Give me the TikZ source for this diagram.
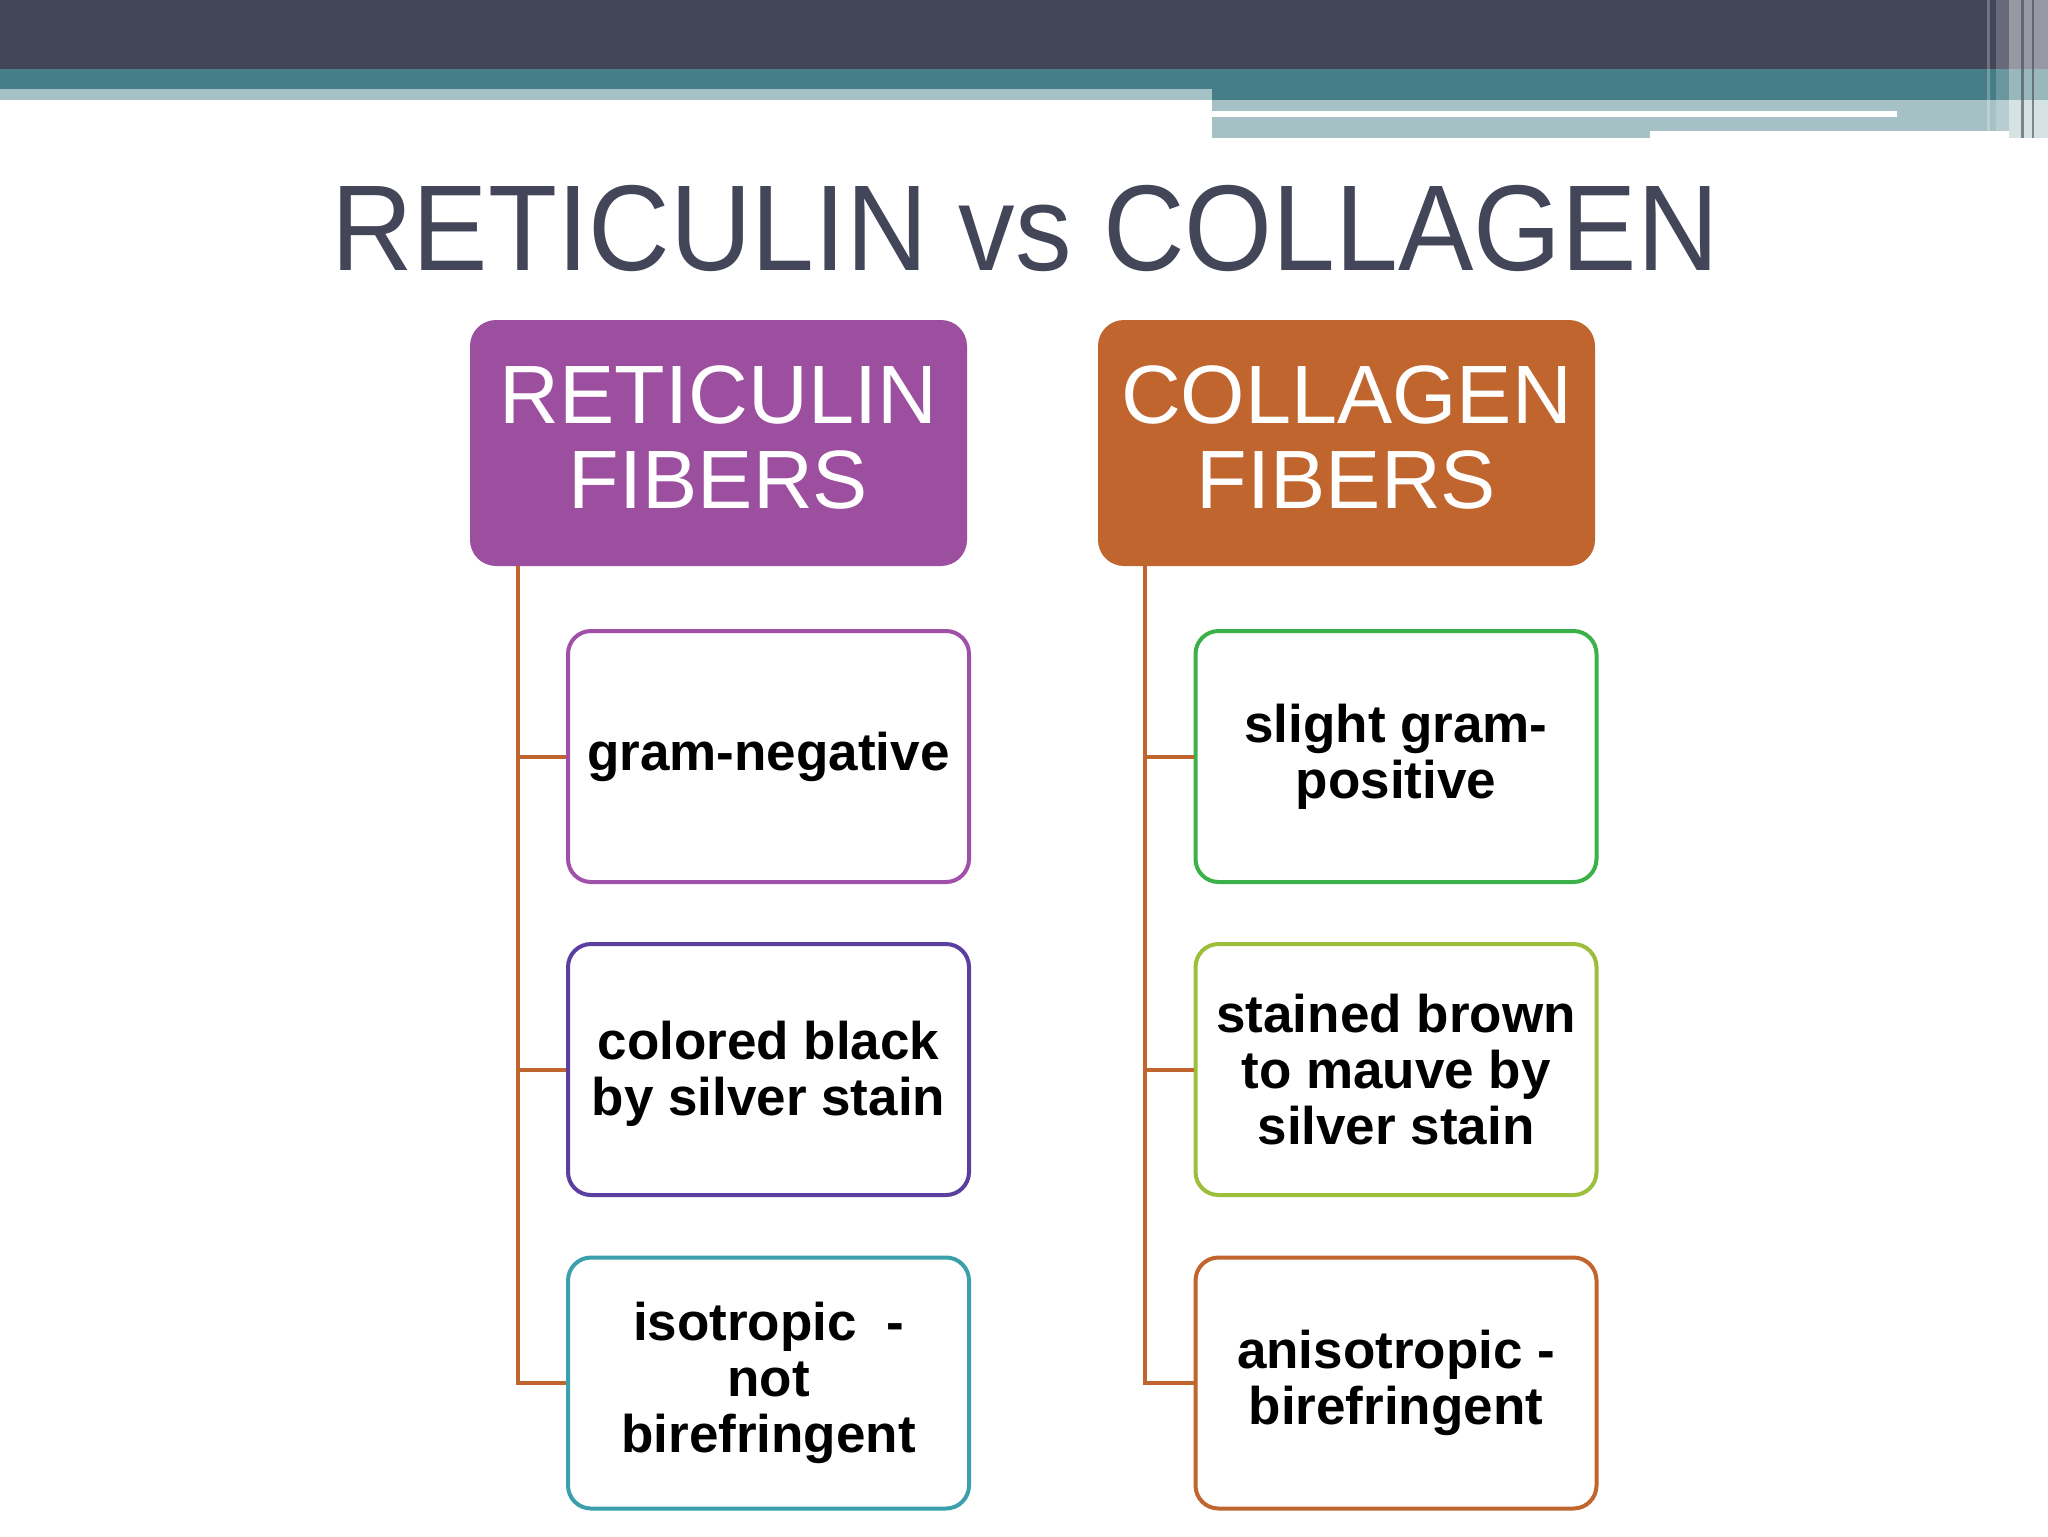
\documentclass[tikz,border=0pt]{standalone}
\usepackage{fontspec}
\setmainfont{Liberation Sans}
\usetikzlibrary{calc}
\definecolor{darkbar}{HTML}{434558}
\definecolor{tealbar}{HTML}{457E86}
\definecolor{lightbar}{HTML}{A5C1C5}
\definecolor{titlec}{HTML}{434558}
\definecolor{purp}{HTML}{9C4F9F}
\definecolor{orng}{HTML}{C0652E}
\definecolor{bA}{HTML}{A050A8}
\definecolor{bB}{HTML}{5A3F9E}
\definecolor{bC}{HTML}{3BA0AC}
\definecolor{bD}{HTML}{3DB149}
\definecolor{bE}{HTML}{9CBF3B}
\definecolor{bF}{HTML}{C0652E}
\newcommand{\dropdepth}{\rule[-6pt]{0pt}{6pt}}
\tikzset{
  hdr/.style={fill=#1, rounded corners=13pt, minimum width=248.5pt, minimum height=123pt,
    inner sep=0pt, align=center, text=white,
    font=\fontsize{41.4}{42.85}\selectfont},
  itembox/.style={draw=#1, line width=2pt, fill=white, rounded corners=11.5pt,
    minimum width=200.5pt, minimum height=125.5pt, inner sep=0pt, align=center,
    text=black, font=\bfseries\fontsize{26.5}{28}\selectfont},
  conn/.style={draw=orng, line width=2pt},
}
\begin{document}
\begin{tikzpicture}[x=0.5pt,y=-0.5pt]
\useasboundingbox (0,0) rectangle (2048,1536);
\fill[white] (0,0) rectangle (2048,1536);
% top banner
\fill[darkbar] (0,0) rectangle (2048,69);
\fill[tealbar] (0,69) rectangle (2048,89);
\fill[tealbar] (1212,89) rectangle (2048,100);
\fill[lightbar] (0,89) rectangle (1212,100);
\fill[lightbar] (1212,100) rectangle (1650,138);
\fill[lightbar] (1650,100) rectangle (2009,131);
\fill[white] (1212,111) rectangle (1897,117);
\fill[white,opacity=0.25] (1987,0) rectangle (1990,131);
\fill[white,opacity=0.2] (1996,0) rectangle (2009,131);
\fill[white,opacity=0.45] (2009,0) rectangle (2048,100);
\fill[lightbar!45] (2009,100) rectangle (2048,138);
\fill[darkbar,opacity=0.6] (2021,0) rectangle (2024,138);
\fill[darkbar,opacity=0.6] (2032,0) rectangle (2034,138);
% title
\node[anchor=base, text=titlec, inner sep=0pt] (title) at (1025,270)
  {\scalebox{1}[1.08]{\fontsize{56.5}{60}\selectfont RETICULIN vs COLLAGEN}};
% headers
\node[hdr=purp] (lh) at (718.5,443) {RETICULIN\\FIBERS\dropdepth};
\node[hdr=orng] (rh) at (1346.5,443) {COLLAGEN\\FIBERS\dropdepth};
% left items
\node[itembox=bA] (l1) at (768.5,756.5) {gram-negative};
\node[itembox=bB] (l2) at (768.5,1069.5) {\rule{0pt}{23.3pt}colored black\\by silver stain};
\node[itembox=bC] (l3) at (768.5,1383) {isotropic\ \ -\\not\\birefringent};
% right items
\node[itembox=bD] (r1) at (1396,756.5) {slight gram-\\positive};
\node[itembox=bE] (r2) at (1396,1069.5) {stained brown\\to mauve by\\silver stain};
\node[itembox=bF] (r3) at (1396,1383) {anisotropic -\\birefringent};
% connectors
\draw[conn] ([xshift=24.25pt]lh.south west) |- (l1.west);
\draw[conn] ([xshift=24.25pt]lh.south west) |- (l2.west);
\draw[conn] ([xshift=24.25pt]lh.south west) |- (l3.west);
\draw[conn] ([xshift=23.5pt]rh.south west) |- (r1.west);
\draw[conn] ([xshift=23.5pt]rh.south west) |- (r2.west);
\draw[conn] ([xshift=23.5pt]rh.south west) |- (r3.west);
\end{tikzpicture}
\end{document}
